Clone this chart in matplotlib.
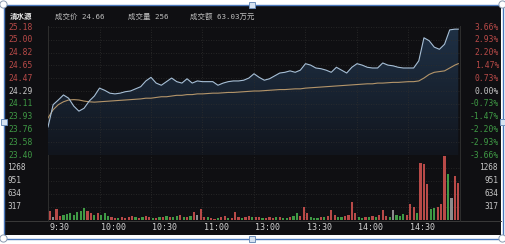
import numpy as np
import matplotlib.pyplot as plt
from matplotlib.patches import Rectangle, Circle, Polygon
from matplotlib.colors import LinearSegmentedColormap

plt.rcParams['font.family'] = ['DejaVu Sans Mono', 'Noto Sans CJK SC']

# ---- data ----
prev_close = 24.29
price_levels = [25.18, 25.00, 24.82, 24.65, 24.47, 24.29, 24.11, 23.93, 23.76, 23.58, 23.40]
pct_labels = ['3.66%', '2.93%', '2.20%', '1.47%', '0.73%', '0.00%',
              '-0.73%', '-1.47%', '-2.20%', '-2.93%', '-3.66%']
vol_levels = [317, 634, 951, 1268]
time_ticks = [0, 30, 60, 90, 120, 150, 180, 210]
time_labels = ['9:30', '10:00', '10:30', '11:00', '13:00', '13:30', '14:00', '14:30']

# minutes since 9:30 (trading minutes, lunch removed)
price_min = list(range(0, 240, 3)) + [239]
price = [23.79, 24.10, 24.165, 24.235, 24.19, 24.08, 24.01, 24.05, 24.15, 24.22,
         24.33, 24.30, 24.26, 24.25, 24.26, 24.28, 24.29, 24.32, 24.35, 24.43,
         24.48, 24.40, 24.37, 24.42, 24.47, 24.42, 24.40, 24.46, 24.40, 24.43,
         24.42, 24.42, 24.42, 24.37, 24.40, 24.42, 24.43, 24.43, 24.44, 24.47,
         24.53, 24.48, 24.44, 24.46, 24.50, 24.54, 24.55, 24.57, 24.55, 24.58,
         24.67, 24.65, 24.61, 24.60, 24.58, 24.55, 24.62, 24.58, 24.54, 24.62,
         24.67, 24.65, 24.62, 24.61, 24.61, 24.68, 24.65, 24.64, 24.62, 24.61,
         24.61, 24.61, 24.71, 25.03, 24.99, 24.90, 24.87, 24.94, 25.14, 25.15,
         25.15]
avg_price = [23.915, 24.03, 24.10, 24.14, 24.165, 24.17, 24.165, 24.15, 24.14, 24.135,
             24.14, 24.145, 24.15, 24.155, 24.16, 24.165, 24.17, 24.175, 24.18, 24.19,
             24.19, 24.20, 24.21, 24.21, 24.22, 24.23, 24.23, 24.24, 24.24, 24.25,
             24.25, 24.255, 24.26, 24.26, 24.265, 24.27, 24.27, 24.275, 24.28, 24.285,
             24.29, 24.29, 24.295, 24.30, 24.305, 24.31, 24.31, 24.315, 24.32, 24.32,
             24.33, 24.335, 24.34, 24.345, 24.35, 24.355, 24.36, 24.365, 24.37, 24.375,
             24.38, 24.385, 24.39, 24.39, 24.40, 24.40, 24.405, 24.41, 24.41, 24.415,
             24.42, 24.42, 24.43, 24.47, 24.52, 24.55, 24.56, 24.57, 24.61, 24.65,
             24.67]

# volume per 2-minute slot, direction 1 up / -1 down / 0 flat
volume = [220, 60, 270, 90, 110, 130, 150, 120, 180, 200,
          275, 210, 150, 120, 160, 110, 170, 80, 60, 40,
          30, 50, 40, 70, 90, 60, 40, 50, 80, 60,
          40, 30, 50, 70, 90, 60, 50, 80, 110, 70,
          60, 90, 180, 100, 270, 60, 50, 30, 20, 40,
          60, 80, 40, 30, 180, 50, 40, 60, 90, 70,
          50, 50, 40, 30, 60, 40, 50, 70, 40, 30,
          60, 90, 150, 80, 300, 170, 60, 40, 30, 50,
          60, 90, 240, 110, 60, 50, 80, 110, 420, 160,
          60, 40, 50, 60, 80, 60, 100, 240, 90, 60,
          240, 120, 80, 130, 100, 390, 300, 150, 1400, 1360,
          880, 260, 280, 300, 380, 1560, 1120, 540, 1070, 900]
direction = [1, 0, 1, 1, -1, -1, -1, -1, -1, -1,
             -1, 1, 1, -1, 1, -1, -1, -1, 1, 1,
             -1, 1, 1, 1, 1, -1, 1, -1, 1, 1,
             -1, 1, -1, 1, -1, 1, -1, -1, 1, -1,
             1, -1, 1, 0, 1, 1, -1, 1, 1, -1,
             1, 1, -1, 1, 1, 1, -1, 1, 1, -1,
             1, 1, -1, 1, 1, 1, -1, 1, -1, -1,
             1, -1, -1, 1, 1, 1, -1, -1, -1, 1,
             -1, 1, 1, 1, -1, -1, 1, 1, 1, 1,
             -1, -1, 1, -1, 1, -1, 1, 1, 1, -1,
             0, -1, -1, -1, 1, 1, 1, -1, 1, 1,
             1, -1, -1, 1, 1, 1, -1, 0, 1, 1]
vol_slot = list(range(1, 240, 2))

# ---- layout in screenshot pixels ----
W, H = 505, 244
fig = plt.figure(figsize=(W / 100, H / 100), dpi=100, facecolor='white')


def box(x0, y0, x1, y1):
    return [x0 / W, 1 - y1 / H, (x1 - x0) / W, (y1 - y0) / H]


bg = fig.add_axes([0, 0, 1, 1], zorder=0)
bg.set_xlim(0, W)
bg.set_ylim(H, 0)
bg.axis('off')
bg.add_patch(Rectangle((5, 6), 496, 229, facecolor='#0f0f12', edgecolor='none'))
bg.add_patch(Rectangle((3.5, 4.5), 499, 234, facecolor='none', edgecolor='#4a78bc', lw=1.0))
bg.plot([5, 501], [220.5, 220.5], color='#3a3a3a', lw=0.7)
for xv in (48, 460):
    bg.plot([xv, xv], [26, 220.5], color='#2e2e2e', lw=0.7)
for cx, cy in [(3.5, 4.5), (502.5, 4.5), (3.5, 238.5), (502.5, 238.5)]:
    bg.add_patch(Circle((cx, cy), 3.6, facecolor='white', edgecolor='#8a9ab0', lw=0.7, zorder=5))
for cx, cy in [(252, 4.5), (3.5, 121.5), (502.5, 121.5), (252, 238.5)]:
    bg.add_patch(Rectangle((cx - 3, cy - 3), 6, 6, facecolor='#d6e2f0', edgecolor='#6f90bb',
                           lw=0.7, zorder=5))

# header
hdr_y = 16.5
hdr_col = '#bdbdbd'
bg.text(10, hdr_y, '清水源', color='#e8e8e8', fontsize=5.4, va='center', fontweight='bold')
bg.text(55, hdr_y, '成交价 24.66', color=hdr_col, fontsize=5.4, va='center')
bg.text(128, hdr_y, '成交量 256', color=hdr_col, fontsize=5.4, va='center')
bg.text(190, hdr_y, '成交额 63.03万元', color=hdr_col, fontsize=5.4, va='center')

RED, GREEN, FLAT = '#b84a48', '#3f9a45', '#c8c8c8'
grid_kw = dict(color='#2d2d2d', lw=0.6, linestyle=(0, (1, 2)))

# ---- price panel ----
ax = fig.add_axes(box(48, 27, 460, 155), zorder=2)
ax.set_facecolor('none')
for s in ax.spines.values():
    s.set_visible(False)
ax.set_xticks([])
ax.set_yticks([])

for lv in price_levels:
    ax.axhline(lv, **grid_kw)
for t in time_ticks[1:]:
    ax.axvline(t, **grid_kw)

cmap = LinearSegmentedColormap.from_list('fill', ['#11151d', '#1f3146'])
grad = np.linspace(1, 0, 256).reshape(-1, 1)
img = ax.imshow(grad, extent=[0, 240, price_levels[-1], price_levels[0]], aspect='auto',
                cmap=cmap, origin='upper', zorder=1)
verts = list(zip(price_min, price)) + [(price_min[-1], price_levels[-1]), (0, price_levels[-1])]
img.set_clip_path(Polygon(verts, closed=True, transform=ax.transData))

ax.plot(price_min, avg_price, color='#b4956a', lw=0.8, zorder=3)
ax.plot(price_min, price, color='#a7bfd6', lw=0.8, zorder=4)
ax.set_xlim(0, 240)
ax.set_ylim(price_levels[-1], price_levels[0])

ytr = ax.get_yaxis_transform()
for lv, pct in zip(price_levels, pct_labels):
    col = RED if lv > prev_close else (GREEN if lv < prev_close else FLAT)
    ax.text(-40 / 412, lv, f'{lv:.2f}', transform=ytr, color=col, fontsize=5.8,
            ha='left', va='center')
    ax.text(451 / 412, lv, pct, transform=ytr, color=col, fontsize=5.8,
            ha='right', va='center')

# ---- volume panel ----
av = fig.add_axes(box(48, 155, 460, 219.5), zorder=2)
av.set_facecolor('none')
for s in av.spines.values():
    s.set_visible(False)
av.set_xticks([])
av.set_yticks([])
for lv in vol_levels:
    av.axhline(lv, **grid_kw)
for t in time_ticks[1:]:
    av.axvline(t, **grid_kw)
bar_cols = [RED if d > 0 else (GREEN if d < 0 else '#8c8c8c') for d in direction]
av.bar(vol_slot, volume, width=1.3, color=bar_cols, zorder=3)
av.set_xlim(0, 240)
av.set_ylim(0, 1585)

vtr = av.get_yaxis_transform()
for lv in vol_levels:
    av.text(-41 / 412, lv, str(lv), transform=vtr, color='#c8c8c8', fontsize=5.6,
            ha='left', va='center')
    av.text(450 / 412, lv, str(lv), transform=vtr, color='#c8c8c8', fontsize=5.6,
            ha='right', va='center')

xtr = av.get_xaxis_transform()
for t, lab in zip(time_ticks, time_labels):
    av.text(t + 0.8, -0.13, lab, transform=xtr, color='#d4d4d4', fontsize=6.0,
            ha='left', va='center')

fig.savefig('out.png', dpi=100, facecolor='white')
